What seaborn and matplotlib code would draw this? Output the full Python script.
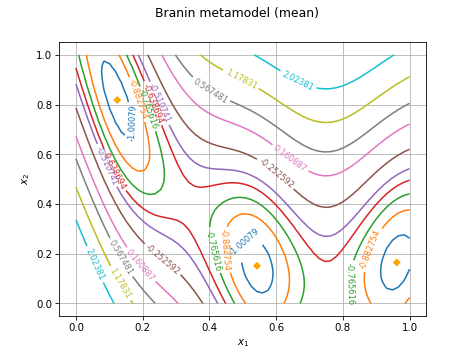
import numpy as np
import matplotlib
matplotlib.use("Agg")
import matplotlib.pyplot as plt
import seaborn as sns
import pandas as pd

# Contour levels (as labelled in the chart)
levels = [-1.00079, -0.882754, -0.765616, -0.638694, -0.510741,
          -0.252592, 0.160887, 0.567481, 1.17831, 2.02381]
level_colors = ["#1f77b4", "#ff7f0e", "#2ca02c", "#d62728", "#9467bd",
                "#8c564b", "#e377c2", "#7f7f7f", "#bcbd22", "#17becf"]

# Known minima of the Branin function (normalized domain)
min_x1 = [0.123895, 0.542773, 0.961652]
min_x2 = [0.818329, 0.151666, 0.165000]

# Grid for the (normalized) Branin surface
n_grid = 60
x1 = np.linspace(0.0, 1.0, n_grid)
x2 = np.linspace(0.0, 1.0, n_grid)
X1, X2 = np.meshgrid(x1, x2)
u1 = 15.0 * X1 - 5.0
u2 = 15.0 * X2
Z = ((u2 - 5.1 / (4 * np.pi ** 2) * u1 ** 2 + 5.0 / np.pi * u1 - 6.0) ** 2
     + 10.0 * (1.0 - 1.0 / (8.0 * np.pi)) * np.cos(u1) + 10.0 - 54.8104) / 51.9496

# approximate label anchor points per level (layout only)
label_pos = [
    [(0.184, 0.728), (0.51, 0.244)],
    [(0.184, 0.82), (0.453, 0.216), (0.888, 0.216)],
    [(0.226, 0.788), (0.417, 0.216), (0.858, 0.083)],
    [(0.24, 0.81), (0.12, 0.54)],
    [(0.259, 0.81), (0.10, 0.56)],
    [(0.61, 0.54), (0.259, 0.176)],
    [(0.64, 0.58), (0.205, 0.168)],
    [(0.40, 0.85), (0.139, 0.188)],
    [(0.49, 0.89), (0.136, 0.083)],
    [(0.663, 0.89), (0.04, 0.147)],
]

fig, ax = plt.subplots(figsize=(6.4, 4.8), dpi=74)
for lvl, col, pts in zip(levels, level_colors, label_pos):
    cs = ax.contour(X1, X2, Z, levels=[lvl], colors=[col], linewidths=1.5,
                    linestyles="solid")
    ax.clabel(cs, inline=True, fontsize=8, fmt=lambda v: f"{v:g}", manual=pts)

df = pd.DataFrame({"x1": min_x1, "x2": min_x2})
sns.scatterplot(data=df, x="x1", y="x2", ax=ax, marker="D", color="orange",
                s=30, edgecolor="none", zorder=5)

ax.set_xlim(-0.05, 1.05)
ax.set_ylim(-0.05, 1.05)
ax.grid(True)
fig.suptitle("Branin metamodel (mean)")
ax.set_xlabel("$x_1$")
ax.set_ylabel("$x_2$")
fig.savefig("out.png", dpi=74)
